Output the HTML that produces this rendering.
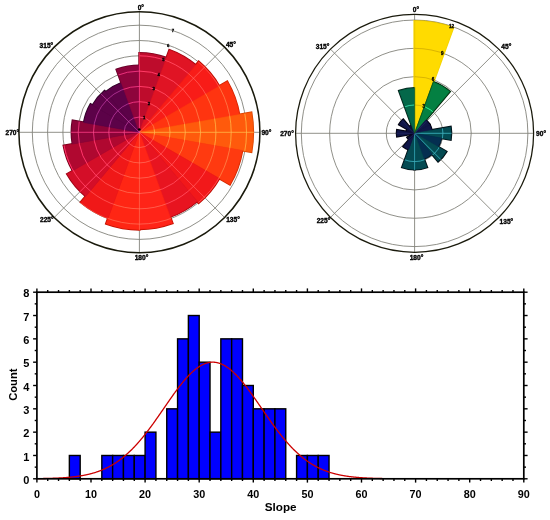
<!DOCTYPE html>
<html><head><meta charset="utf-8"><title>Rose diagrams and slope histogram</title>
<style>
html,body{margin:0;padding:0;background:#fff;}
body{width:550px;height:520px;overflow:hidden;}
svg{display:block;font-family:"Liberation Sans",Arial,sans-serif;}
</style></head><body>
<svg width="550" height="520" viewBox="0 0 550 520">
<rect width="550" height="520" fill="#fff"/>
<g id="L">
<g fill="none" stroke="#7c7c74" stroke-width="0.85">
<circle cx="139.4" cy="132.3" r="15.30"/>
<circle cx="139.4" cy="132.3" r="30.60"/>
<circle cx="139.4" cy="132.3" r="45.90"/>
<circle cx="139.4" cy="132.3" r="61.20"/>
<circle cx="139.4" cy="132.3" r="76.50"/>
<circle cx="139.4" cy="132.3" r="91.80"/>
<circle cx="139.4" cy="132.3" r="107.10"/>
<line x1="139.4" y1="132.3" x2="139.40" y2="11.80"/>
<line x1="139.4" y1="132.3" x2="224.61" y2="47.09"/>
<line x1="139.4" y1="132.3" x2="259.90" y2="132.30"/>
<line x1="139.4" y1="132.3" x2="224.61" y2="217.51"/>
<line x1="139.4" y1="132.3" x2="139.40" y2="252.80"/>
<line x1="139.4" y1="132.3" x2="54.19" y2="217.51"/>
<line x1="139.4" y1="132.3" x2="18.90" y2="132.30"/>
<line x1="139.4" y1="132.3" x2="54.19" y2="47.09"/>
</g>
<g fill="none" stroke-width="2.2" stroke-linejoin="miter">
<path d="M139.40,132.30L139.40,53.08A79.23,79.23 0 0 1 166.50,57.85Z" stroke="#80001c"/>
<path d="M139.40,132.30L169.37,49.95A87.64,87.64 0 0 1 195.73,65.16Z" stroke="#a0000c"/>
<path d="M139.40,132.30L198.68,61.65A92.23,92.23 0 0 1 219.27,86.19Z" stroke="#b80c00"/>
<path d="M139.40,132.30L227.22,81.59A101.41,101.41 0 0 1 239.27,114.69Z" stroke="#d02400"/>
<path d="M139.40,132.30L251.32,112.56A113.65,113.65 0 0 1 251.32,152.04Z" stroke="#d84400"/>
<path d="M139.40,132.30L242.28,150.44A104.47,104.47 0 0 1 229.87,184.53Z" stroke="#d02800"/>
<path d="M139.40,132.30L219.27,178.41A92.23,92.23 0 0 1 198.68,202.95Z" stroke="#b80c00"/>
<path d="M139.40,132.30L197.21,201.19A89.94,89.94 0 0 1 170.16,216.81Z" stroke="#a0000c"/>
<path d="M139.40,132.30L172.51,223.28A96.82,96.82 0 0 1 139.40,229.12Z" stroke="#c01000"/>
<path d="M139.40,132.30L139.40,229.58A97.28,97.28 0 0 1 106.13,223.71Z" stroke="#c01000"/>
<path d="M139.40,132.30L108.22,217.96A91.16,91.16 0 0 1 80.80,202.13Z" stroke="#b80c00"/>
<path d="M139.40,132.30L85.72,196.27A83.51,83.51 0 0 1 67.08,174.05Z" stroke="#980010"/>
<path d="M139.40,132.30L72.78,170.77A76.93,76.93 0 0 1 63.64,145.66Z" stroke="#780018"/>
<path d="M139.40,132.30L72.68,144.06A67.75,67.75 0 0 1 72.68,120.54Z" stroke="#600024"/>
<path d="M139.40,132.30L83.98,122.53A56.27,56.27 0 0 1 90.66,104.16Z" stroke="#2c0024"/>
<path d="M139.40,132.30L92.65,105.31A53.98,53.98 0 0 1 104.70,90.95Z" stroke="#2c0024"/>
<path d="M139.40,132.30L105.69,92.12A52.45,52.45 0 0 1 121.46,83.01Z" stroke="#2c0024"/>
<path d="M139.40,132.30L116.59,69.64A66.68,66.68 0 0 1 139.40,65.62Z" stroke="#640026"/>
</g>
<g stroke="none">
<path d="M139.40,132.30L139.40,53.08A79.23,79.23 0 0 1 166.50,57.85Z" fill="#be0c2c" stroke="#be0c2c" stroke-width="0.6"/>
<path d="M139.40,132.30L169.37,49.95A87.64,87.64 0 0 1 195.73,65.16Z" fill="#e01424" stroke="#e01424" stroke-width="0.6"/>
<path d="M139.40,132.30L198.68,61.65A92.23,92.23 0 0 1 219.27,86.19Z" fill="#f81c18" stroke="#f81c18" stroke-width="0.6"/>
<path d="M139.40,132.30L227.22,81.59A101.41,101.41 0 0 1 239.27,114.69Z" fill="#ff3410" stroke="#ff3410" stroke-width="0.6"/>
<path d="M139.40,132.30L251.32,112.56A113.65,113.65 0 0 1 251.32,152.04Z" fill="#ff5a0c" stroke="#ff5a0c" stroke-width="0.6"/>
<path d="M139.40,132.30L242.28,150.44A104.47,104.47 0 0 1 229.87,184.53Z" fill="#ff3a10" stroke="#ff3a10" stroke-width="0.6"/>
<path d="M139.40,132.30L219.27,178.41A92.23,92.23 0 0 1 198.68,202.95Z" fill="#f2181a" stroke="#f2181a" stroke-width="0.6"/>
<path d="M139.40,132.30L197.21,201.19A89.94,89.94 0 0 1 170.16,216.81Z" fill="#e81420" stroke="#e81420" stroke-width="0.6"/>
<path d="M139.40,132.30L172.51,223.28A96.82,96.82 0 0 1 139.40,229.12Z" fill="#ff2418" stroke="#ff2418" stroke-width="0.6"/>
<path d="M139.40,132.30L139.40,229.58A97.28,97.28 0 0 1 106.13,223.71Z" fill="#ff2614" stroke="#ff2614" stroke-width="0.6"/>
<path d="M139.40,132.30L108.22,217.96A91.16,91.16 0 0 1 80.80,202.13Z" fill="#f01818" stroke="#f01818" stroke-width="0.6"/>
<path d="M139.40,132.30L85.72,196.27A83.51,83.51 0 0 1 67.08,174.05Z" fill="#d40e28" stroke="#d40e28" stroke-width="0.6"/>
<path d="M139.40,132.30L72.78,170.77A76.93,76.93 0 0 1 63.64,145.66Z" fill="#b00830" stroke="#b00830" stroke-width="0.6"/>
<path d="M139.40,132.30L72.68,144.06A67.75,67.75 0 0 1 72.68,120.54Z" fill="#8c0438" stroke="#8c0438" stroke-width="0.6"/>
<path d="M139.40,132.30L83.98,122.53A56.27,56.27 0 0 1 90.66,104.16Z" fill="#5c0248" stroke="#5c0248" stroke-width="0.6"/>
<path d="M139.40,132.30L92.65,105.31A53.98,53.98 0 0 1 104.70,90.95Z" fill="#5c0248" stroke="#5c0248" stroke-width="0.6"/>
<path d="M139.40,132.30L105.69,92.12A52.45,52.45 0 0 1 121.46,83.01Z" fill="#5c0248" stroke="#5c0248" stroke-width="0.6"/>
<path d="M139.40,132.30L116.59,69.64A66.68,66.68 0 0 1 139.40,65.62Z" fill="#8e043c" stroke="#8e043c" stroke-width="0.6"/>
</g>
<clipPath id="clipL0">
<path d="M139.40,132.30L139.40,51.98A80.33,80.33 0 0 1 166.87,56.82Z"/>
<path d="M139.40,132.30L169.75,48.91A88.74,88.74 0 0 1 196.44,64.32Z"/>
<path d="M139.40,132.30L199.39,60.81A93.33,93.33 0 0 1 220.23,85.64Z"/>
<path d="M139.40,132.30L228.18,81.04A102.51,102.51 0 0 1 240.35,114.50Z"/>
<path d="M139.40,132.30L252.41,112.37A114.75,114.75 0 0 1 252.41,152.23Z"/>
<path d="M139.40,132.30L243.37,150.63A105.57,105.57 0 0 1 230.83,185.08Z"/>
<path d="M139.40,132.30L220.23,178.96A93.33,93.33 0 0 1 199.39,203.79Z"/>
<path d="M139.40,132.30L197.92,202.04A91.04,91.04 0 0 1 170.54,217.84Z"/>
<path d="M139.40,132.30L172.89,224.31A97.92,97.92 0 0 1 139.40,230.22Z"/>
<path d="M139.40,132.30L139.40,230.68A98.38,98.38 0 0 1 105.75,224.75Z"/>
<path d="M139.40,132.30L107.85,219.00A92.26,92.26 0 0 1 80.10,202.97Z"/>
<path d="M139.40,132.30L85.01,197.11A84.61,84.61 0 0 1 66.13,174.60Z"/>
<path d="M139.40,132.30L71.82,171.32A78.03,78.03 0 0 1 62.56,145.85Z"/>
<path d="M139.40,132.30L71.60,144.26A68.85,68.85 0 0 1 71.60,120.34Z"/>
<path d="M139.40,132.30L82.90,122.34A57.38,57.38 0 0 1 89.71,103.61Z"/>
<path d="M139.40,132.30L91.70,104.76A55.08,55.08 0 0 1 104.00,90.11Z"/>
<path d="M139.40,132.30L104.98,91.28A53.55,53.55 0 0 1 121.08,81.98Z"/>
<path d="M139.40,132.30L116.22,68.61A67.78,67.78 0 0 1 139.40,64.52Z"/>
</clipPath>
<g clip-path="url(#clipL0)" fill="none" stroke="#606060" stroke-opacity="1" stroke-width="1" style="mix-blend-mode:color-dodge">
<circle cx="139.4" cy="132.3" r="15.30"/>
<circle cx="139.4" cy="132.3" r="30.60"/>
<circle cx="139.4" cy="132.3" r="45.90"/>
<circle cx="139.4" cy="132.3" r="61.20"/>
<circle cx="139.4" cy="132.3" r="76.50"/>
<circle cx="139.4" cy="132.3" r="91.80"/>
<circle cx="139.4" cy="132.3" r="107.10"/>
<line x1="139.4" y1="132.3" x2="139.40" y2="11.80"/>
<line x1="139.4" y1="132.3" x2="224.61" y2="47.09"/>
<line x1="139.4" y1="132.3" x2="259.90" y2="132.30"/>
<line x1="139.4" y1="132.3" x2="224.61" y2="217.51"/>
<line x1="139.4" y1="132.3" x2="139.40" y2="252.80"/>
<line x1="139.4" y1="132.3" x2="54.19" y2="217.51"/>
<line x1="139.4" y1="132.3" x2="18.90" y2="132.30"/>
<line x1="139.4" y1="132.3" x2="54.19" y2="47.09"/>
</g>
<g clip-path="url(#clipL0)" fill="none" stroke="#ffffff" stroke-opacity="0.17" stroke-width="1">
<circle cx="139.4" cy="132.3" r="15.30"/>
<circle cx="139.4" cy="132.3" r="30.60"/>
<circle cx="139.4" cy="132.3" r="45.90"/>
<circle cx="139.4" cy="132.3" r="61.20"/>
<circle cx="139.4" cy="132.3" r="76.50"/>
<circle cx="139.4" cy="132.3" r="91.80"/>
<circle cx="139.4" cy="132.3" r="107.10"/>
<line x1="139.4" y1="132.3" x2="139.40" y2="11.80"/>
<line x1="139.4" y1="132.3" x2="224.61" y2="47.09"/>
<line x1="139.4" y1="132.3" x2="259.90" y2="132.30"/>
<line x1="139.4" y1="132.3" x2="224.61" y2="217.51"/>
<line x1="139.4" y1="132.3" x2="139.40" y2="252.80"/>
<line x1="139.4" y1="132.3" x2="54.19" y2="217.51"/>
<line x1="139.4" y1="132.3" x2="18.90" y2="132.30"/>
<line x1="139.4" y1="132.3" x2="54.19" y2="47.09"/>
</g>
<circle cx="139.4" cy="132.3" r="120.5" fill="none" stroke="#1a1a0c" stroke-width="1.55"/>
<g font-size="4.3" font-weight="bold" text-anchor="middle" fill="#000" stroke="#000" stroke-width="0.3">
<text x="144.2" y="119.3">1</text>
<text x="149.0" y="104.8">2</text>
<text x="153.8" y="90.3">3</text>
<text x="158.6" y="75.7">4</text>
<text x="163.4" y="61.2">5</text>
<text x="168.2" y="46.7">6</text>
<text x="173.0" y="32.2">7</text>
</g>
</g>
<circle cx="139.3" cy="129.5" r="1.3" fill="#000"/>
<g id="R">
<g fill="none" stroke="#7c7c74" stroke-width="0.85">
<circle cx="414.6" cy="133.3" r="28.32"/>
<circle cx="414.6" cy="133.3" r="56.64"/>
<circle cx="414.6" cy="133.3" r="84.96"/>
<circle cx="414.6" cy="133.3" r="113.28"/>
<line x1="414.6" y1="133.3" x2="414.60" y2="14.30"/>
<line x1="414.6" y1="133.3" x2="498.75" y2="49.15"/>
<line x1="414.6" y1="133.3" x2="533.60" y2="133.30"/>
<line x1="414.6" y1="133.3" x2="498.75" y2="217.45"/>
<line x1="414.6" y1="133.3" x2="414.60" y2="252.30"/>
<line x1="414.6" y1="133.3" x2="330.45" y2="217.45"/>
<line x1="414.6" y1="133.3" x2="295.60" y2="133.30"/>
<line x1="414.6" y1="133.3" x2="330.45" y2="49.15"/>
</g>
<g fill="none" stroke-width="2.4" stroke-linejoin="miter">
<path d="M414.60,133.30L414.60,21.22A112.08,112.08 0 0 1 452.93,27.98Z" stroke="#f4d400"/>
<path d="M414.60,133.30L433.24,82.09A54.50,54.50 0 0 1 449.63,91.55Z" stroke="#032c0c"/>
<path d="M414.60,133.30L425.66,120.12A17.21,17.21 0 0 1 429.50,124.70Z" stroke="#01010c"/>
<path d="M414.60,133.30L429.50,124.70A17.21,17.21 0 0 1 431.55,130.31Z" stroke="#01010c"/>
<path d="M414.60,133.30L450.60,126.95A36.56,36.56 0 0 1 450.60,139.65Z" stroke="#010c12"/>
<path d="M414.60,133.30L441.31,138.01A27.12,27.12 0 0 1 438.09,146.86Z" stroke="#01080e"/>
<path d="M414.60,133.30L446.26,151.58A36.56,36.56 0 0 1 438.10,161.31Z" stroke="#010c12"/>
<path d="M414.60,133.30L432.03,154.08A27.12,27.12 0 0 1 423.88,158.78Z" stroke="#01080e"/>
<path d="M414.60,133.30L426.94,167.21A36.09,36.09 0 0 1 414.60,169.39Z" stroke="#010c12"/>
<path d="M414.60,133.30L414.60,169.39A36.09,36.09 0 0 1 402.26,167.21Z" stroke="#010c12"/>
<path d="M414.60,133.30L408.71,149.47A17.21,17.21 0 0 1 403.54,146.48Z" stroke="#01010c"/>
<path d="M414.60,133.30L409.30,139.61A8.24,8.24 0 0 1 407.46,137.42Z" stroke="#010108"/>
<path d="M414.60,133.30L397.19,136.37A17.68,17.68 0 0 1 397.19,130.23Z" stroke="#01010c"/>
<path d="M414.60,133.30L406.49,131.87A8.24,8.24 0 0 1 407.46,129.18Z" stroke="#010108"/>
<path d="M414.60,133.30L399.29,124.46A17.68,17.68 0 0 1 403.24,119.76Z" stroke="#01010c"/>
<path d="M414.60,133.30L409.30,126.99A8.24,8.24 0 0 1 411.78,125.56Z" stroke="#010108"/>
<path d="M414.60,133.30L399.19,90.96A45.06,45.06 0 0 1 414.60,88.24Z" stroke="#012018"/>
</g>
<g stroke="none">
<path d="M414.60,133.30L414.60,21.22A112.08,112.08 0 0 1 452.93,27.98Z" fill="#ffdb00" stroke="#ffdb00" stroke-width="0.6"/>
<path d="M414.60,133.30L433.24,82.09A54.50,54.50 0 0 1 449.63,91.55Z" fill="#048042" stroke="#048042" stroke-width="0.6"/>
<path d="M414.60,133.30L425.66,120.12A17.21,17.21 0 0 1 429.50,124.70Z" fill="#101648" stroke="#101648" stroke-width="0.6"/>
<path d="M414.60,133.30L429.50,124.70A17.21,17.21 0 0 1 431.55,130.31Z" fill="#101648" stroke="#101648" stroke-width="0.6"/>
<path d="M414.60,133.30L450.60,126.95A36.56,36.56 0 0 1 450.60,139.65Z" fill="#044a52" stroke="#044a52" stroke-width="0.6"/>
<path d="M414.60,133.30L441.31,138.01A27.12,27.12 0 0 1 438.09,146.86Z" fill="#042e50" stroke="#042e50" stroke-width="0.6"/>
<path d="M414.60,133.30L446.26,151.58A36.56,36.56 0 0 1 438.10,161.31Z" fill="#044a52" stroke="#044a52" stroke-width="0.6"/>
<path d="M414.60,133.30L432.03,154.08A27.12,27.12 0 0 1 423.88,158.78Z" fill="#042e50" stroke="#042e50" stroke-width="0.6"/>
<path d="M414.60,133.30L426.94,167.21A36.09,36.09 0 0 1 414.60,169.39Z" fill="#044a52" stroke="#044a52" stroke-width="0.6"/>
<path d="M414.60,133.30L414.60,169.39A36.09,36.09 0 0 1 402.26,167.21Z" fill="#044a52" stroke="#044a52" stroke-width="0.6"/>
<path d="M414.60,133.30L408.71,149.47A17.21,17.21 0 0 1 403.54,146.48Z" fill="#101648" stroke="#101648" stroke-width="0.6"/>
<path d="M414.60,133.30L409.30,139.61A8.24,8.24 0 0 1 407.46,137.42Z" fill="#0c0c34" stroke="#0c0c34" stroke-width="0.6"/>
<path d="M414.60,133.30L397.19,136.37A17.68,17.68 0 0 1 397.19,130.23Z" fill="#101648" stroke="#101648" stroke-width="0.6"/>
<path d="M414.60,133.30L406.49,131.87A8.24,8.24 0 0 1 407.46,129.18Z" fill="#0c0c34" stroke="#0c0c34" stroke-width="0.6"/>
<path d="M414.60,133.30L399.29,124.46A17.68,17.68 0 0 1 403.24,119.76Z" fill="#101648" stroke="#101648" stroke-width="0.6"/>
<path d="M414.60,133.30L409.30,126.99A8.24,8.24 0 0 1 411.78,125.56Z" fill="#0c0c34" stroke="#0c0c34" stroke-width="0.6"/>
<path d="M414.60,133.30L399.19,90.96A45.06,45.06 0 0 1 414.60,88.24Z" fill="#04684a" stroke="#04684a" stroke-width="0.6"/>
</g>
<clipPath id="clipR0">
<path d="M414.60,133.30L414.60,20.02A113.28,113.28 0 0 1 453.34,26.85Z"/>
</clipPath>
<g clip-path="url(#clipR0)" fill="none" stroke="#b89000" stroke-opacity="0.5" stroke-width="1">
<circle cx="414.6" cy="133.3" r="28.32"/>
<circle cx="414.6" cy="133.3" r="56.64"/>
<circle cx="414.6" cy="133.3" r="84.96"/>
<circle cx="414.6" cy="133.3" r="113.28"/>
<line x1="414.6" y1="133.3" x2="414.60" y2="14.30"/>
<line x1="414.6" y1="133.3" x2="498.75" y2="49.15"/>
<line x1="414.6" y1="133.3" x2="533.60" y2="133.30"/>
<line x1="414.6" y1="133.3" x2="498.75" y2="217.45"/>
<line x1="414.6" y1="133.3" x2="414.60" y2="252.30"/>
<line x1="414.6" y1="133.3" x2="330.45" y2="217.45"/>
<line x1="414.6" y1="133.3" x2="295.60" y2="133.30"/>
<line x1="414.6" y1="133.3" x2="330.45" y2="49.15"/>
</g>
<clipPath id="clipR1">
<path d="M414.60,133.30L433.65,80.96A55.70,55.70 0 0 1 450.40,90.63Z"/>
<path d="M414.60,133.30L451.79,126.74A37.76,37.76 0 0 1 451.79,139.86Z"/>
<path d="M414.60,133.30L442.49,138.22A28.32,28.32 0 0 1 439.13,147.46Z"/>
<path d="M414.60,133.30L447.30,152.18A37.76,37.76 0 0 1 438.87,162.23Z"/>
<path d="M414.60,133.30L432.80,154.99A28.32,28.32 0 0 1 424.29,159.91Z"/>
<path d="M414.60,133.30L427.35,168.34A37.29,37.29 0 0 1 414.60,170.59Z"/>
<path d="M414.60,133.30L414.60,170.59A37.29,37.29 0 0 1 401.85,168.34Z"/>
<path d="M414.60,133.30L398.78,89.83A46.26,46.26 0 0 1 414.60,87.04Z"/>
</clipPath>
<g clip-path="url(#clipR1)" fill="none" stroke="#787878" stroke-opacity="1" stroke-width="1" style="mix-blend-mode:color-dodge">
<circle cx="414.6" cy="133.3" r="28.32"/>
<circle cx="414.6" cy="133.3" r="56.64"/>
<circle cx="414.6" cy="133.3" r="84.96"/>
<circle cx="414.6" cy="133.3" r="113.28"/>
<line x1="414.6" y1="133.3" x2="414.60" y2="14.30"/>
<line x1="414.6" y1="133.3" x2="498.75" y2="49.15"/>
<line x1="414.6" y1="133.3" x2="533.60" y2="133.30"/>
<line x1="414.6" y1="133.3" x2="498.75" y2="217.45"/>
<line x1="414.6" y1="133.3" x2="414.60" y2="252.30"/>
<line x1="414.6" y1="133.3" x2="330.45" y2="217.45"/>
<line x1="414.6" y1="133.3" x2="295.60" y2="133.30"/>
<line x1="414.6" y1="133.3" x2="330.45" y2="49.15"/>
</g>
<g clip-path="url(#clipR1)" fill="none" stroke="#ffffff" stroke-opacity="0.17" stroke-width="1">
<circle cx="414.6" cy="133.3" r="28.32"/>
<circle cx="414.6" cy="133.3" r="56.64"/>
<circle cx="414.6" cy="133.3" r="84.96"/>
<circle cx="414.6" cy="133.3" r="113.28"/>
<line x1="414.6" y1="133.3" x2="414.60" y2="14.30"/>
<line x1="414.6" y1="133.3" x2="498.75" y2="49.15"/>
<line x1="414.6" y1="133.3" x2="533.60" y2="133.30"/>
<line x1="414.6" y1="133.3" x2="498.75" y2="217.45"/>
<line x1="414.6" y1="133.3" x2="414.60" y2="252.30"/>
<line x1="414.6" y1="133.3" x2="330.45" y2="217.45"/>
<line x1="414.6" y1="133.3" x2="295.60" y2="133.30"/>
<line x1="414.6" y1="133.3" x2="330.45" y2="49.15"/>
</g>
<clipPath id="clipR2">
<path d="M414.60,133.30L426.43,119.20A18.41,18.41 0 0 1 430.54,124.10Z"/>
<path d="M414.60,133.30L430.54,124.10A18.41,18.41 0 0 1 432.73,130.10Z"/>
<path d="M414.60,133.30L408.30,150.60A18.41,18.41 0 0 1 402.77,147.40Z"/>
<path d="M414.60,133.30L408.53,140.53A9.44,9.44 0 0 1 406.42,138.02Z"/>
<path d="M414.60,133.30L396.01,136.58A18.88,18.88 0 0 1 396.01,130.02Z"/>
<path d="M414.60,133.30L405.30,131.66A9.44,9.44 0 0 1 406.42,128.58Z"/>
<path d="M414.60,133.30L398.25,123.86A18.88,18.88 0 0 1 402.46,118.84Z"/>
<path d="M414.60,133.30L408.53,126.07A9.44,9.44 0 0 1 411.37,124.43Z"/>
</clipPath>
<g clip-path="url(#clipR2)" fill="none" stroke="#3a3a80" stroke-opacity="0.3" stroke-width="1">
<circle cx="414.6" cy="133.3" r="28.32"/>
<circle cx="414.6" cy="133.3" r="56.64"/>
<circle cx="414.6" cy="133.3" r="84.96"/>
<circle cx="414.6" cy="133.3" r="113.28"/>
<line x1="414.6" y1="133.3" x2="414.60" y2="14.30"/>
<line x1="414.6" y1="133.3" x2="498.75" y2="49.15"/>
<line x1="414.6" y1="133.3" x2="533.60" y2="133.30"/>
<line x1="414.6" y1="133.3" x2="498.75" y2="217.45"/>
<line x1="414.6" y1="133.3" x2="414.60" y2="252.30"/>
<line x1="414.6" y1="133.3" x2="330.45" y2="217.45"/>
<line x1="414.6" y1="133.3" x2="295.60" y2="133.30"/>
<line x1="414.6" y1="133.3" x2="330.45" y2="49.15"/>
</g>
<circle cx="414.6" cy="133.3" r="119.0" fill="none" stroke="#1a1a0c" stroke-width="1.25"/>
<g font-size="4.6" font-weight="bold" text-anchor="middle" fill="#000" stroke="#000" stroke-width="0.3">
<text x="423.8" y="108.2">3</text>
<text x="433.0" y="81.4">6</text>
<text x="442.3" y="54.6">9</text>
<text x="451.5" y="27.8">12</text>
</g>
</g>
<line x1="414.6" y1="133.3" x2="414.60" y2="87.04" stroke="#0a4a18" stroke-width="0.9" stroke-opacity="0.85"/>
<line x1="414.6" y1="133.3" x2="433.65" y2="80.96" stroke="#0a4a10" stroke-width="0.9" stroke-opacity="0.85"/>
<g font-size="6.6" font-weight="bold" fill="#000" stroke="#000" stroke-width="0.35" text-anchor="middle">
<text x="140.8" y="10.3">0°</text>
<text x="230.9" y="47.0">45°</text>
<text x="266.4" y="134.5">90°</text>
<text x="233.0" y="221.5">135°</text>
<text x="141.5" y="260.3">180°</text>
<text x="46.8" y="221.7">225°</text>
<text x="12.3" y="135.2">270°</text>
<text x="46.4" y="48.1">315°</text>
</g>
<g font-size="6.6" font-weight="bold" fill="#000" stroke="#000" stroke-width="0.35" text-anchor="middle">
<text x="416.0" y="11.5">0°</text>
<text x="506.3" y="49.1">45°</text>
<text x="541.1" y="135.5">90°</text>
<text x="506.4" y="223.5">135°</text>
<text x="416.5" y="259.9">180°</text>
<text x="323.5" y="222.9">225°</text>
<text x="287.0" y="135.6">270°</text>
<text x="322.6" y="49.2">315°</text>
</g>
<g fill="#0000ff" stroke="#000" stroke-width="1.4">
<rect x="69.36" y="455.48" width="10.82" height="23.33"/>
<rect x="101.82" y="455.48" width="10.82" height="23.33"/>
<rect x="112.64" y="455.48" width="10.82" height="23.33"/>
<rect x="123.46" y="455.48" width="10.82" height="23.33"/>
<rect x="134.28" y="455.48" width="10.82" height="23.33"/>
<rect x="145.10" y="432.15" width="10.82" height="46.65"/>
<rect x="166.74" y="408.82" width="10.82" height="69.98"/>
<rect x="177.56" y="338.85" width="10.82" height="139.95"/>
<rect x="188.38" y="315.52" width="10.82" height="163.28"/>
<rect x="199.20" y="362.18" width="10.82" height="116.63"/>
<rect x="210.02" y="432.15" width="10.82" height="46.65"/>
<rect x="220.84" y="338.85" width="10.82" height="139.95"/>
<rect x="231.66" y="338.85" width="10.82" height="139.95"/>
<rect x="242.48" y="385.50" width="10.82" height="93.30"/>
<rect x="253.30" y="408.82" width="10.82" height="69.98"/>
<rect x="264.12" y="408.82" width="10.82" height="69.98"/>
<rect x="274.94" y="408.82" width="10.82" height="69.98"/>
<rect x="296.58" y="455.48" width="10.82" height="23.33"/>
<rect x="307.40" y="455.48" width="10.82" height="23.33"/>
<rect x="318.22" y="455.48" width="10.82" height="23.33"/>
</g>
<polyline points="36.90,478.63 37.17,478.62 37.44,478.62 37.71,478.62 37.98,478.61 38.25,478.61 38.52,478.61 38.79,478.60 39.06,478.60 39.33,478.59 39.60,478.59 39.88,478.59 40.15,478.58 40.42,478.58 40.69,478.57 40.96,478.57 41.23,478.56 41.50,478.56 41.77,478.55 42.04,478.55 42.31,478.54 42.58,478.54 42.85,478.53 43.12,478.53 43.39,478.52 43.66,478.52 43.93,478.51 44.20,478.51 44.47,478.50 44.74,478.50 45.02,478.49 45.29,478.48 45.56,478.48 45.83,478.47 46.10,478.47 46.37,478.46 46.64,478.45 46.91,478.45 47.18,478.44 47.45,478.43 47.72,478.43 47.99,478.42 48.26,478.41 48.53,478.40 48.80,478.40 49.07,478.39 49.34,478.38 49.61,478.37 49.88,478.37 50.15,478.36 50.42,478.35 50.70,478.34 50.97,478.33 51.24,478.32 51.51,478.31 51.78,478.31 52.05,478.30 52.32,478.29 52.59,478.28 52.86,478.27 53.13,478.26 53.40,478.25 53.67,478.24 53.94,478.23 54.21,478.22 54.48,478.21 54.75,478.20 55.02,478.19 55.29,478.17 55.56,478.16 55.84,478.15 56.11,478.14 56.38,478.13 56.65,478.12 56.92,478.10 57.19,478.09 57.46,478.08 57.73,478.06 58.00,478.05 58.27,478.04 58.54,478.03 58.81,478.01 59.08,478.00 59.35,477.98 59.62,477.97 59.89,477.95 60.16,477.94 60.43,477.92 60.70,477.91 60.97,477.89 61.24,477.88 61.52,477.86 61.79,477.84 62.06,477.83 62.33,477.81 62.60,477.79 62.87,477.78 63.14,477.76 63.41,477.74 63.68,477.72 63.95,477.71 64.22,477.69 64.49,477.67 64.76,477.65 65.03,477.63 65.30,477.61 65.57,477.59 65.84,477.57 66.11,477.55 66.38,477.53 66.66,477.50 66.93,477.48 67.20,477.46 67.47,477.44 67.74,477.42 68.01,477.39 68.28,477.37 68.55,477.35 68.82,477.32 69.09,477.30 69.36,477.27 69.63,477.25 69.90,477.22 70.17,477.20 70.44,477.17 70.71,477.14 70.98,477.12 71.25,477.09 71.52,477.06 71.79,477.03 72.06,477.00 72.34,476.97 72.61,476.94 72.88,476.91 73.15,476.88 73.42,476.85 73.69,476.82 73.96,476.79 74.23,476.76 74.50,476.73 74.77,476.69 75.04,476.66 75.31,476.63 75.58,476.59 75.85,476.56 76.12,476.52 76.39,476.49 76.66,476.45 76.93,476.41 77.20,476.38 77.47,476.34 77.75,476.30 78.02,476.26 78.29,476.22 78.56,476.18 78.83,476.14 79.10,476.10 79.37,476.06 79.64,476.02 79.91,475.97 80.18,475.93 80.45,475.89 80.72,475.84 80.99,475.80 81.26,475.75 81.53,475.71 81.80,475.66 82.07,475.61 82.34,475.57 82.61,475.52 82.88,475.47 83.16,475.42 83.43,475.37 83.70,475.32 83.97,475.27 84.24,475.21 84.51,475.16 84.78,475.11 85.05,475.05 85.32,475.00 85.59,474.94 85.86,474.89 86.13,474.83 86.40,474.77 86.67,474.71 86.94,474.65 87.21,474.59 87.48,474.53 87.75,474.47 88.02,474.41 88.30,474.35 88.57,474.28 88.84,474.22 89.11,474.15 89.38,474.09 89.65,474.02 89.92,473.95 90.19,473.89 90.46,473.82 90.73,473.75 91.00,473.68 91.27,473.60 91.54,473.53 91.81,473.46 92.08,473.38 92.35,473.31 92.62,473.23 92.89,473.16 93.16,473.08 93.43,473.00 93.70,472.92 93.98,472.84 94.25,472.76 94.52,472.68 94.79,472.59 95.06,472.51 95.33,472.43 95.60,472.34 95.87,472.25 96.14,472.17 96.41,472.08 96.68,471.99 96.95,471.90 97.22,471.80 97.49,471.71 97.76,471.62 98.03,471.52 98.30,471.43 98.57,471.33 98.84,471.23 99.12,471.13 99.39,471.03 99.66,470.93 99.93,470.83 100.20,470.73 100.47,470.62 100.74,470.52 101.01,470.41 101.28,470.31 101.55,470.20 101.82,470.09 102.09,469.98 102.36,469.86 102.63,469.75 102.90,469.64 103.17,469.52 103.44,469.40 103.71,469.29 103.98,469.17 104.25,469.05 104.53,468.93 104.80,468.80 105.07,468.68 105.34,468.56 105.61,468.43 105.88,468.30 106.15,468.17 106.42,468.04 106.69,467.91 106.96,467.78 107.23,467.65 107.50,467.51 107.77,467.38 108.04,467.24 108.31,467.10 108.58,466.96 108.85,466.82 109.12,466.68 109.39,466.53 109.66,466.39 109.94,466.24 110.21,466.09 110.48,465.94 110.75,465.79 111.02,465.64 111.29,465.49 111.56,465.33 111.83,465.17 112.10,465.02 112.37,464.86 112.64,464.70 112.91,464.54 113.18,464.37 113.45,464.21 113.72,464.04 113.99,463.88 114.26,463.71 114.53,463.54 114.80,463.36 115.07,463.19 115.34,463.02 115.62,462.84 115.89,462.66 116.16,462.48 116.43,462.30 116.70,462.12 116.97,461.94 117.24,461.75 117.51,461.57 117.78,461.38 118.05,461.19 118.32,461.00 118.59,460.81 118.86,460.61 119.13,460.42 119.40,460.22 119.67,460.02 119.94,459.82 120.21,459.62 120.48,459.41 120.75,459.21 121.03,459.00 121.30,458.80 121.57,458.59 121.84,458.38 122.11,458.16 122.38,457.95 122.65,457.73 122.92,457.52 123.19,457.30 123.46,457.08 123.73,456.85 124.00,456.63 124.27,456.41 124.54,456.18 124.81,455.95 125.08,455.72 125.35,455.49 125.62,455.26 125.89,455.02 126.16,454.78 126.44,454.55 126.71,454.31 126.98,454.07 127.25,453.82 127.52,453.58 127.79,453.33 128.06,453.08 128.33,452.84 128.60,452.58 128.87,452.33 129.14,452.08 129.41,451.82 129.68,451.56 129.95,451.31 130.22,451.05 130.49,450.78 130.76,450.52 131.03,450.25 131.30,449.99 131.57,449.72 131.85,449.45 132.12,449.18 132.39,448.90 132.66,448.63 132.93,448.35 133.20,448.08 133.47,447.80 133.74,447.51 134.01,447.23 134.28,446.95 134.55,446.66 134.82,446.37 135.09,446.08 135.36,445.79 135.63,445.50 135.90,445.21 136.17,444.91 136.44,444.62 136.71,444.32 136.99,444.02 137.26,443.72 137.53,443.41 137.80,443.11 138.07,442.80 138.34,442.50 138.61,442.19 138.88,441.88 139.15,441.57 139.42,441.25 139.69,440.94 139.96,440.62 140.23,440.30 140.50,439.98 140.77,439.66 141.04,439.34 141.31,439.02 141.58,438.69 141.85,438.37 142.12,438.04 142.40,437.71 142.67,437.38 142.94,437.05 143.21,436.72 143.48,436.38 143.75,436.04 144.02,435.71 144.29,435.37 144.56,435.03 144.83,434.69 145.10,434.35 145.37,434.00 145.64,433.66 145.91,433.31 146.18,432.96 146.45,432.62 146.72,432.27 146.99,431.91 147.26,431.56 147.53,431.21 147.81,430.85 148.08,430.50 148.35,430.14 148.62,429.78 148.89,429.42 149.16,429.06 149.43,428.70 149.70,428.34 149.97,427.98 150.24,427.61 150.51,427.25 150.78,426.88 151.05,426.51 151.32,426.14 151.59,425.78 151.86,425.41 152.13,425.03 152.40,424.66 152.67,424.29 152.94,423.91 153.22,423.54 153.49,423.16 153.76,422.79 154.03,422.41 154.30,422.03 154.57,421.65 154.84,421.27 155.11,420.89 155.38,420.51 155.65,420.13 155.92,419.75 156.19,419.37 156.46,418.98 156.73,418.60 157.00,418.21 157.27,417.83 157.54,417.44 157.81,417.05 158.08,416.67 158.35,416.28 158.62,415.89 158.90,415.50 159.17,415.11 159.44,414.72 159.71,414.33 159.98,413.94 160.25,413.55 160.52,413.16 160.79,412.77 161.06,412.38 161.33,411.99 161.60,411.60 161.87,411.21 162.14,410.81 162.41,410.42 162.68,410.03 162.95,409.64 163.22,409.24 163.49,408.85 163.76,408.46 164.03,408.06 164.31,407.67 164.58,407.28 164.85,406.88 165.12,406.49 165.39,406.10 165.66,405.71 165.93,405.31 166.20,404.92 166.47,404.53 166.74,404.14 167.01,403.75 167.28,403.35 167.55,402.96 167.82,402.57 168.09,402.18 168.36,401.79 168.63,401.40 168.90,401.01 169.17,400.63 169.45,400.24 169.72,399.85 169.99,399.46 170.26,399.08 170.53,398.69 170.80,398.30 171.07,397.92 171.34,397.54 171.61,397.15 171.88,396.77 172.15,396.39 172.42,396.01 172.69,395.63 172.96,395.25 173.23,394.87 173.50,394.49 173.77,394.11 174.04,393.74 174.31,393.36 174.58,392.99 174.86,392.62 175.13,392.24 175.40,391.87 175.67,391.50 175.94,391.13 176.21,390.77 176.48,390.40 176.75,390.04 177.02,389.67 177.29,389.31 177.56,388.95 177.83,388.59 178.10,388.23 178.37,387.87 178.64,387.52 178.91,387.16 179.18,386.81 179.45,386.46 179.72,386.11 179.99,385.76 180.27,385.41 180.54,385.07 180.81,384.73 181.08,384.38 181.35,384.04 181.62,383.71 181.89,383.37 182.16,383.03 182.43,382.70 182.70,382.37 182.97,382.04 183.24,381.71 183.51,381.39 183.78,381.06 184.05,380.74 184.32,380.42 184.59,380.10 184.86,379.79 185.13,379.47 185.40,379.16 185.68,378.85 185.95,378.55 186.22,378.24 186.49,377.94 186.76,377.64 187.03,377.34 187.30,377.04 187.57,376.75 187.84,376.46 188.11,376.17 188.38,375.88 188.65,375.59 188.92,375.31 189.19,375.03 189.46,374.75 189.73,374.48 190.00,374.21 190.27,373.94 190.54,373.67 190.81,373.41 191.09,373.14 191.36,372.88 191.63,372.63 191.90,372.37 192.17,372.12 192.44,371.87 192.71,371.63 192.98,371.38 193.25,371.14 193.52,370.90 193.79,370.67 194.06,370.44 194.33,370.21 194.60,369.98 194.87,369.76 195.14,369.54 195.41,369.32 195.68,369.10 195.95,368.89 196.22,368.68 196.50,368.48 196.77,368.27 197.04,368.07 197.31,367.88 197.58,367.68 197.85,367.49 198.12,367.31 198.39,367.12 198.66,366.94 198.93,366.76 199.20,366.59 199.47,366.42 199.74,366.25 200.01,366.08 200.28,365.92 200.55,365.76 200.82,365.61 201.09,365.46 201.36,365.31 201.63,365.16 201.91,365.02 202.18,364.88 202.45,364.75 202.72,364.61 202.99,364.48 203.26,364.36 203.53,364.24 203.80,364.12 204.07,364.00 204.34,363.89 204.61,363.78 204.88,363.68 205.15,363.58 205.42,363.48 205.69,363.39 205.96,363.29 206.23,363.21 206.50,363.12 206.77,363.04 207.04,362.97 207.31,362.89 207.59,362.82 207.86,362.76 208.13,362.69 208.40,362.63 208.67,362.58 208.94,362.53 209.21,362.48 209.48,362.43 209.75,362.39 210.02,362.35 210.29,362.32 210.56,362.29 210.83,362.26 211.10,362.24 211.37,362.22 211.64,362.20 211.91,362.19 212.18,362.18 212.45,362.18 212.73,362.18 213.00,362.18 213.27,362.18 213.54,362.19 213.81,362.20 214.08,362.22 214.35,362.24 214.62,362.26 214.89,362.29 215.16,362.32 215.43,362.35 215.70,362.39 215.97,362.43 216.24,362.48 216.51,362.53 216.78,362.58 217.05,362.63 217.32,362.69 217.59,362.76 217.86,362.82 218.14,362.89 218.41,362.97 218.68,363.04 218.95,363.12 219.22,363.21 219.49,363.29 219.76,363.39 220.03,363.48 220.30,363.58 220.57,363.68 220.84,363.78 221.11,363.89 221.38,364.00 221.65,364.12 221.92,364.24 222.19,364.36 222.46,364.48 222.73,364.61 223.00,364.75 223.27,364.88 223.55,365.02 223.82,365.16 224.09,365.31 224.36,365.46 224.63,365.61 224.90,365.76 225.17,365.92 225.44,366.08 225.71,366.25 225.98,366.42 226.25,366.59 226.52,366.76 226.79,366.94 227.06,367.12 227.33,367.31 227.60,367.49 227.87,367.68 228.14,367.88 228.41,368.07 228.68,368.27 228.96,368.48 229.23,368.68 229.50,368.89 229.77,369.10 230.04,369.32 230.31,369.54 230.58,369.76 230.85,369.98 231.12,370.21 231.39,370.44 231.66,370.67 231.93,370.90 232.20,371.14 232.47,371.38 232.74,371.63 233.01,371.87 233.28,372.12 233.55,372.37 233.82,372.63 234.09,372.88 234.37,373.14 234.64,373.41 234.91,373.67 235.18,373.94 235.45,374.21 235.72,374.48 235.99,374.75 236.26,375.03 236.53,375.31 236.80,375.59 237.07,375.88 237.34,376.17 237.61,376.46 237.88,376.75 238.15,377.04 238.42,377.34 238.69,377.64 238.96,377.94 239.23,378.24 239.50,378.55 239.78,378.85 240.05,379.16 240.32,379.47 240.59,379.79 240.86,380.10 241.13,380.42 241.40,380.74 241.67,381.06 241.94,381.39 242.21,381.71 242.48,382.04 242.75,382.37 243.02,382.70 243.29,383.03 243.56,383.37 243.83,383.71 244.10,384.04 244.37,384.38 244.64,384.73 244.91,385.07 245.19,385.41 245.46,385.76 245.73,386.11 246.00,386.46 246.27,386.81 246.54,387.16 246.81,387.52 247.08,387.87 247.35,388.23 247.62,388.59 247.89,388.95 248.16,389.31 248.43,389.67 248.70,390.04 248.97,390.40 249.24,390.77 249.51,391.13 249.78,391.50 250.05,391.87 250.32,392.24 250.59,392.62 250.87,392.99 251.14,393.36 251.41,393.74 251.68,394.11 251.95,394.49 252.22,394.87 252.49,395.25 252.76,395.63 253.03,396.01 253.30,396.39 253.57,396.77 253.84,397.15 254.11,397.54 254.38,397.92 254.65,398.30 254.92,398.69 255.19,399.08 255.46,399.46 255.73,399.85 256.00,400.24 256.28,400.63 256.55,401.01 256.82,401.40 257.09,401.79 257.36,402.18 257.63,402.57 257.90,402.96 258.17,403.35 258.44,403.75 258.71,404.14 258.98,404.53 259.25,404.92 259.52,405.31 259.79,405.71 260.06,406.10 260.33,406.49 260.60,406.88 260.87,407.28 261.14,407.67 261.42,408.06 261.69,408.46 261.96,408.85 262.23,409.24 262.50,409.64 262.77,410.03 263.04,410.42 263.31,410.81 263.58,411.21 263.85,411.60 264.12,411.99 264.39,412.38 264.66,412.77 264.93,413.16 265.20,413.55 265.47,413.94 265.74,414.33 266.01,414.72 266.28,415.11 266.55,415.50 266.82,415.89 267.10,416.28 267.37,416.67 267.64,417.05 267.91,417.44 268.18,417.83 268.45,418.21 268.72,418.60 268.99,418.98 269.26,419.37 269.53,419.75 269.80,420.13 270.07,420.51 270.34,420.89 270.61,421.27 270.88,421.65 271.15,422.03 271.42,422.41 271.69,422.79 271.96,423.16 272.24,423.54 272.51,423.91 272.78,424.29 273.05,424.66 273.32,425.03 273.59,425.41 273.86,425.78 274.13,426.14 274.40,426.51 274.67,426.88 274.94,427.25 275.21,427.61 275.48,427.98 275.75,428.34 276.02,428.70 276.29,429.06 276.56,429.42 276.83,429.78 277.10,430.14 277.37,430.50 277.64,430.85 277.92,431.21 278.19,431.56 278.46,431.91 278.73,432.27 279.00,432.62 279.27,432.96 279.54,433.31 279.81,433.66 280.08,434.00 280.35,434.35 280.62,434.69 280.89,435.03 281.16,435.37 281.43,435.71 281.70,436.04 281.97,436.38 282.24,436.72 282.51,437.05 282.78,437.38 283.06,437.71 283.33,438.04 283.60,438.37 283.87,438.69 284.14,439.02 284.41,439.34 284.68,439.66 284.95,439.98 285.22,440.30 285.49,440.62 285.76,440.94 286.03,441.25 286.30,441.57 286.57,441.88 286.84,442.19 287.11,442.50 287.38,442.80 287.65,443.11 287.92,443.41 288.19,443.72 288.46,444.02 288.74,444.32 289.01,444.62 289.28,444.91 289.55,445.21 289.82,445.50 290.09,445.79 290.36,446.08 290.63,446.37 290.90,446.66 291.17,446.95 291.44,447.23 291.71,447.51 291.98,447.80 292.25,448.08 292.52,448.35 292.79,448.63 293.06,448.90 293.33,449.18 293.60,449.45 293.88,449.72 294.15,449.99 294.42,450.25 294.69,450.52 294.96,450.78 295.23,451.05 295.50,451.31 295.77,451.56 296.04,451.82 296.31,452.08 296.58,452.33 296.85,452.58 297.12,452.84 297.39,453.08 297.66,453.33 297.93,453.58 298.20,453.82 298.47,454.07 298.74,454.31 299.01,454.55 299.28,454.78 299.56,455.02 299.83,455.26 300.10,455.49 300.37,455.72 300.64,455.95 300.91,456.18 301.18,456.41 301.45,456.63 301.72,456.85 301.99,457.08 302.26,457.30 302.53,457.52 302.80,457.73 303.07,457.95 303.34,458.16 303.61,458.38 303.88,458.59 304.15,458.80 304.42,459.00 304.69,459.21 304.97,459.41 305.24,459.62 305.51,459.82 305.78,460.02 306.05,460.22 306.32,460.42 306.59,460.61 306.86,460.81 307.13,461.00 307.40,461.19 307.67,461.38 307.94,461.57 308.21,461.75 308.48,461.94 308.75,462.12 309.02,462.30 309.29,462.48 309.56,462.66 309.83,462.84 310.10,463.02 310.38,463.19 310.65,463.36 310.92,463.54 311.19,463.71 311.46,463.88 311.73,464.04 312.00,464.21 312.27,464.37 312.54,464.54 312.81,464.70 313.08,464.86 313.35,465.02 313.62,465.17 313.89,465.33 314.16,465.49 314.43,465.64 314.70,465.79 314.97,465.94 315.24,466.09 315.51,466.24 315.79,466.39 316.06,466.53 316.33,466.68 316.60,466.82 316.87,466.96 317.14,467.10 317.41,467.24 317.68,467.38 317.95,467.51 318.22,467.65 318.49,467.78 318.76,467.91 319.03,468.04 319.30,468.17 319.57,468.30 319.84,468.43 320.11,468.56 320.38,468.68 320.65,468.80 320.93,468.93 321.20,469.05 321.47,469.17 321.74,469.29 322.01,469.40 322.28,469.52 322.55,469.64 322.82,469.75 323.09,469.86 323.36,469.98 323.63,470.09 323.90,470.20 324.17,470.31 324.44,470.41 324.71,470.52 324.98,470.62 325.25,470.73 325.52,470.83 325.79,470.93 326.06,471.03 326.33,471.13 326.61,471.23 326.88,471.33 327.15,471.43 327.42,471.52 327.69,471.62 327.96,471.71 328.23,471.80 328.50,471.90 328.77,471.99 329.04,472.08 329.31,472.17 329.58,472.25 329.85,472.34 330.12,472.43 330.39,472.51 330.66,472.59 330.93,472.68 331.20,472.76 331.47,472.84 331.75,472.92 332.02,473.00 332.29,473.08 332.56,473.16 332.83,473.23 333.10,473.31 333.37,473.38 333.64,473.46 333.91,473.53 334.18,473.60 334.45,473.68 334.72,473.75 334.99,473.82 335.26,473.89 335.53,473.95 335.80,474.02 336.07,474.09 336.34,474.15 336.61,474.22 336.88,474.28 337.15,474.35 337.43,474.41 337.70,474.47 337.97,474.53 338.24,474.59 338.51,474.65 338.78,474.71 339.05,474.77 339.32,474.83 339.59,474.89 339.86,474.94 340.13,475.00 340.40,475.05 340.67,475.11 340.94,475.16 341.21,475.21 341.48,475.27 341.75,475.32 342.02,475.37 342.29,475.42 342.56,475.47 342.84,475.52 343.11,475.57 343.38,475.61 343.65,475.66 343.92,475.71 344.19,475.75 344.46,475.80 344.73,475.84 345.00,475.89 345.27,475.93 345.54,475.97 345.81,476.02 346.08,476.06 346.35,476.10 346.62,476.14 346.89,476.18 347.16,476.22 347.43,476.26 347.70,476.30 347.97,476.34 348.25,476.38 348.52,476.41 348.79,476.45 349.06,476.49 349.33,476.52 349.60,476.56 349.87,476.59 350.14,476.63 350.41,476.66 350.68,476.69 350.95,476.73 351.22,476.76 351.49,476.79 351.76,476.82 352.03,476.85 352.30,476.88 352.57,476.91 352.84,476.94 353.11,476.97 353.38,477.00 353.66,477.03 353.93,477.06 354.20,477.09 354.47,477.12 354.74,477.14 355.01,477.17 355.28,477.20 355.55,477.22 355.82,477.25 356.09,477.27 356.36,477.30 356.63,477.32 356.90,477.35 357.17,477.37 357.44,477.39 357.71,477.42 357.98,477.44 358.25,477.46 358.52,477.48 358.79,477.50 359.07,477.53 359.34,477.55 359.61,477.57 359.88,477.59 360.15,477.61 360.42,477.63 360.69,477.65 360.96,477.67 361.23,477.69 361.50,477.71 361.77,477.72 362.04,477.74 362.31,477.76 362.58,477.78 362.85,477.79 363.12,477.81 363.39,477.83 363.66,477.84 363.93,477.86 364.20,477.88 364.48,477.89 364.75,477.91 365.02,477.92 365.29,477.94 365.56,477.95 365.83,477.97 366.10,477.98 366.37,478.00 366.64,478.01 366.91,478.03 367.18,478.04 367.45,478.05 367.72,478.06 367.99,478.08 368.26,478.09 368.53,478.10 368.80,478.12 369.07,478.13 369.34,478.14 369.62,478.15 369.89,478.16 370.16,478.17 370.43,478.19 370.70,478.20 370.97,478.21 371.24,478.22 371.51,478.23 371.78,478.24 372.05,478.25 372.32,478.26 372.59,478.27 372.86,478.28 373.13,478.29 373.40,478.30 373.67,478.31 373.94,478.31 374.21,478.32 374.48,478.33 374.75,478.34 375.02,478.35 375.30,478.36 375.57,478.37 375.84,478.37 376.11,478.38 376.38,478.39 376.65,478.40 376.92,478.40 377.19,478.41 377.46,478.42 377.73,478.43 378.00,478.43 378.27,478.44 378.54,478.45 378.81,478.45 379.08,478.46 379.35,478.47 379.62,478.47 379.89,478.48 380.16,478.48 380.44,478.49 380.71,478.50 380.98,478.50 381.25,478.51 381.52,478.51 381.79,478.52 382.06,478.52 382.33,478.53 382.60,478.53 382.87,478.54 383.14,478.54" fill="none" stroke="#cc0000" stroke-width="1.3"/>
<rect x="36.9" y="292.2" width="486.90" height="186.60" fill="none" stroke="#000" stroke-width="1.7"/>
<g stroke="#000" stroke-width="1.4">
<line x1="36.90" y1="478.8" x2="36.90" y2="482.6"/>
<line x1="36.90" y1="292.2" x2="36.90" y2="288.40"/>
<line x1="47.72" y1="478.8" x2="47.72" y2="481.0"/>
<line x1="47.72" y1="292.2" x2="47.72" y2="290.00"/>
<line x1="58.54" y1="478.8" x2="58.54" y2="481.0"/>
<line x1="58.54" y1="292.2" x2="58.54" y2="290.00"/>
<line x1="69.36" y1="478.8" x2="69.36" y2="481.0"/>
<line x1="69.36" y1="292.2" x2="69.36" y2="290.00"/>
<line x1="80.18" y1="478.8" x2="80.18" y2="481.0"/>
<line x1="80.18" y1="292.2" x2="80.18" y2="290.00"/>
<line x1="91.00" y1="478.8" x2="91.00" y2="482.6"/>
<line x1="91.00" y1="292.2" x2="91.00" y2="288.40"/>
<line x1="101.82" y1="478.8" x2="101.82" y2="481.0"/>
<line x1="101.82" y1="292.2" x2="101.82" y2="290.00"/>
<line x1="112.64" y1="478.8" x2="112.64" y2="481.0"/>
<line x1="112.64" y1="292.2" x2="112.64" y2="290.00"/>
<line x1="123.46" y1="478.8" x2="123.46" y2="481.0"/>
<line x1="123.46" y1="292.2" x2="123.46" y2="290.00"/>
<line x1="134.28" y1="478.8" x2="134.28" y2="481.0"/>
<line x1="134.28" y1="292.2" x2="134.28" y2="290.00"/>
<line x1="145.10" y1="478.8" x2="145.10" y2="482.6"/>
<line x1="145.10" y1="292.2" x2="145.10" y2="288.40"/>
<line x1="155.92" y1="478.8" x2="155.92" y2="481.0"/>
<line x1="155.92" y1="292.2" x2="155.92" y2="290.00"/>
<line x1="166.74" y1="478.8" x2="166.74" y2="481.0"/>
<line x1="166.74" y1="292.2" x2="166.74" y2="290.00"/>
<line x1="177.56" y1="478.8" x2="177.56" y2="481.0"/>
<line x1="177.56" y1="292.2" x2="177.56" y2="290.00"/>
<line x1="188.38" y1="478.8" x2="188.38" y2="481.0"/>
<line x1="188.38" y1="292.2" x2="188.38" y2="290.00"/>
<line x1="199.20" y1="478.8" x2="199.20" y2="482.6"/>
<line x1="199.20" y1="292.2" x2="199.20" y2="288.40"/>
<line x1="210.02" y1="478.8" x2="210.02" y2="481.0"/>
<line x1="210.02" y1="292.2" x2="210.02" y2="290.00"/>
<line x1="220.84" y1="478.8" x2="220.84" y2="481.0"/>
<line x1="220.84" y1="292.2" x2="220.84" y2="290.00"/>
<line x1="231.66" y1="478.8" x2="231.66" y2="481.0"/>
<line x1="231.66" y1="292.2" x2="231.66" y2="290.00"/>
<line x1="242.48" y1="478.8" x2="242.48" y2="481.0"/>
<line x1="242.48" y1="292.2" x2="242.48" y2="290.00"/>
<line x1="253.30" y1="478.8" x2="253.30" y2="482.6"/>
<line x1="253.30" y1="292.2" x2="253.30" y2="288.40"/>
<line x1="264.12" y1="478.8" x2="264.12" y2="481.0"/>
<line x1="264.12" y1="292.2" x2="264.12" y2="290.00"/>
<line x1="274.94" y1="478.8" x2="274.94" y2="481.0"/>
<line x1="274.94" y1="292.2" x2="274.94" y2="290.00"/>
<line x1="285.76" y1="478.8" x2="285.76" y2="481.0"/>
<line x1="285.76" y1="292.2" x2="285.76" y2="290.00"/>
<line x1="296.58" y1="478.8" x2="296.58" y2="481.0"/>
<line x1="296.58" y1="292.2" x2="296.58" y2="290.00"/>
<line x1="307.40" y1="478.8" x2="307.40" y2="482.6"/>
<line x1="307.40" y1="292.2" x2="307.40" y2="288.40"/>
<line x1="318.22" y1="478.8" x2="318.22" y2="481.0"/>
<line x1="318.22" y1="292.2" x2="318.22" y2="290.00"/>
<line x1="329.04" y1="478.8" x2="329.04" y2="481.0"/>
<line x1="329.04" y1="292.2" x2="329.04" y2="290.00"/>
<line x1="339.86" y1="478.8" x2="339.86" y2="481.0"/>
<line x1="339.86" y1="292.2" x2="339.86" y2="290.00"/>
<line x1="350.68" y1="478.8" x2="350.68" y2="481.0"/>
<line x1="350.68" y1="292.2" x2="350.68" y2="290.00"/>
<line x1="361.50" y1="478.8" x2="361.50" y2="482.6"/>
<line x1="361.50" y1="292.2" x2="361.50" y2="288.40"/>
<line x1="372.32" y1="478.8" x2="372.32" y2="481.0"/>
<line x1="372.32" y1="292.2" x2="372.32" y2="290.00"/>
<line x1="383.14" y1="478.8" x2="383.14" y2="481.0"/>
<line x1="383.14" y1="292.2" x2="383.14" y2="290.00"/>
<line x1="393.96" y1="478.8" x2="393.96" y2="481.0"/>
<line x1="393.96" y1="292.2" x2="393.96" y2="290.00"/>
<line x1="404.78" y1="478.8" x2="404.78" y2="481.0"/>
<line x1="404.78" y1="292.2" x2="404.78" y2="290.00"/>
<line x1="415.60" y1="478.8" x2="415.60" y2="482.6"/>
<line x1="415.60" y1="292.2" x2="415.60" y2="288.40"/>
<line x1="426.42" y1="478.8" x2="426.42" y2="481.0"/>
<line x1="426.42" y1="292.2" x2="426.42" y2="290.00"/>
<line x1="437.24" y1="478.8" x2="437.24" y2="481.0"/>
<line x1="437.24" y1="292.2" x2="437.24" y2="290.00"/>
<line x1="448.06" y1="478.8" x2="448.06" y2="481.0"/>
<line x1="448.06" y1="292.2" x2="448.06" y2="290.00"/>
<line x1="458.88" y1="478.8" x2="458.88" y2="481.0"/>
<line x1="458.88" y1="292.2" x2="458.88" y2="290.00"/>
<line x1="469.70" y1="478.8" x2="469.70" y2="482.6"/>
<line x1="469.70" y1="292.2" x2="469.70" y2="288.40"/>
<line x1="480.52" y1="478.8" x2="480.52" y2="481.0"/>
<line x1="480.52" y1="292.2" x2="480.52" y2="290.00"/>
<line x1="491.34" y1="478.8" x2="491.34" y2="481.0"/>
<line x1="491.34" y1="292.2" x2="491.34" y2="290.00"/>
<line x1="502.16" y1="478.8" x2="502.16" y2="481.0"/>
<line x1="502.16" y1="292.2" x2="502.16" y2="290.00"/>
<line x1="512.98" y1="478.8" x2="512.98" y2="481.0"/>
<line x1="512.98" y1="292.2" x2="512.98" y2="290.00"/>
<line x1="523.80" y1="478.8" x2="523.80" y2="482.6"/>
<line x1="523.80" y1="292.2" x2="523.80" y2="288.40"/>
<line x1="36.9" y1="478.80" x2="33.1" y2="478.80"/>
<line x1="523.8" y1="478.80" x2="527.60" y2="478.80"/>
<line x1="36.9" y1="467.14" x2="34.699999999999996" y2="467.14"/>
<line x1="523.8" y1="467.14" x2="526.00" y2="467.14"/>
<line x1="36.9" y1="455.48" x2="33.1" y2="455.48"/>
<line x1="523.8" y1="455.48" x2="527.60" y2="455.48"/>
<line x1="36.9" y1="443.81" x2="34.699999999999996" y2="443.81"/>
<line x1="523.8" y1="443.81" x2="526.00" y2="443.81"/>
<line x1="36.9" y1="432.15" x2="33.1" y2="432.15"/>
<line x1="523.8" y1="432.15" x2="527.60" y2="432.15"/>
<line x1="36.9" y1="420.49" x2="34.699999999999996" y2="420.49"/>
<line x1="523.8" y1="420.49" x2="526.00" y2="420.49"/>
<line x1="36.9" y1="408.82" x2="33.1" y2="408.82"/>
<line x1="523.8" y1="408.82" x2="527.60" y2="408.82"/>
<line x1="36.9" y1="397.16" x2="34.699999999999996" y2="397.16"/>
<line x1="523.8" y1="397.16" x2="526.00" y2="397.16"/>
<line x1="36.9" y1="385.50" x2="33.1" y2="385.50"/>
<line x1="523.8" y1="385.50" x2="527.60" y2="385.50"/>
<line x1="36.9" y1="373.84" x2="34.699999999999996" y2="373.84"/>
<line x1="523.8" y1="373.84" x2="526.00" y2="373.84"/>
<line x1="36.9" y1="362.18" x2="33.1" y2="362.18"/>
<line x1="523.8" y1="362.18" x2="527.60" y2="362.18"/>
<line x1="36.9" y1="350.51" x2="34.699999999999996" y2="350.51"/>
<line x1="523.8" y1="350.51" x2="526.00" y2="350.51"/>
<line x1="36.9" y1="338.85" x2="33.1" y2="338.85"/>
<line x1="523.8" y1="338.85" x2="527.60" y2="338.85"/>
<line x1="36.9" y1="327.19" x2="34.699999999999996" y2="327.19"/>
<line x1="523.8" y1="327.19" x2="526.00" y2="327.19"/>
<line x1="36.9" y1="315.52" x2="33.1" y2="315.52"/>
<line x1="523.8" y1="315.52" x2="527.60" y2="315.52"/>
<line x1="36.9" y1="303.86" x2="34.699999999999996" y2="303.86"/>
<line x1="523.8" y1="303.86" x2="526.00" y2="303.86"/>
<line x1="36.9" y1="292.20" x2="33.1" y2="292.20"/>
<line x1="523.8" y1="292.20" x2="527.60" y2="292.20"/>
</g>
<g font-size="10.8" font-weight="bold" fill="#000">
<text x="36.9" y="497.8" text-anchor="middle">0</text>
<text x="91.0" y="497.8" text-anchor="middle">10</text>
<text x="145.1" y="497.8" text-anchor="middle">20</text>
<text x="199.2" y="497.8" text-anchor="middle">30</text>
<text x="253.3" y="497.8" text-anchor="middle">40</text>
<text x="307.4" y="497.8" text-anchor="middle">50</text>
<text x="361.5" y="497.8" text-anchor="middle">60</text>
<text x="415.6" y="497.8" text-anchor="middle">70</text>
<text x="469.7" y="497.8" text-anchor="middle">80</text>
<text x="523.8" y="497.8" text-anchor="middle">90</text>
<text x="29.3" y="483.9" text-anchor="end" font-size="11">0</text>
<text x="29.3" y="460.6" text-anchor="end" font-size="11">1</text>
<text x="29.3" y="437.2" text-anchor="end" font-size="11">2</text>
<text x="29.3" y="413.9" text-anchor="end" font-size="11">3</text>
<text x="29.3" y="390.6" text-anchor="end" font-size="11">4</text>
<text x="29.3" y="367.3" text-anchor="end" font-size="11">5</text>
<text x="29.3" y="344.0" text-anchor="end" font-size="11">6</text>
<text x="29.3" y="320.6" text-anchor="end" font-size="11">7</text>
<text x="29.3" y="297.3" text-anchor="end" font-size="11">8</text>
</g>
<text x="280.7" y="511.2" font-size="11.7" font-weight="bold" text-anchor="middle">Slope</text>
<text transform="translate(17.0,384.7) rotate(-90)" font-size="11.2" font-weight="bold" text-anchor="middle">Count</text>
</svg>
</body></html>
